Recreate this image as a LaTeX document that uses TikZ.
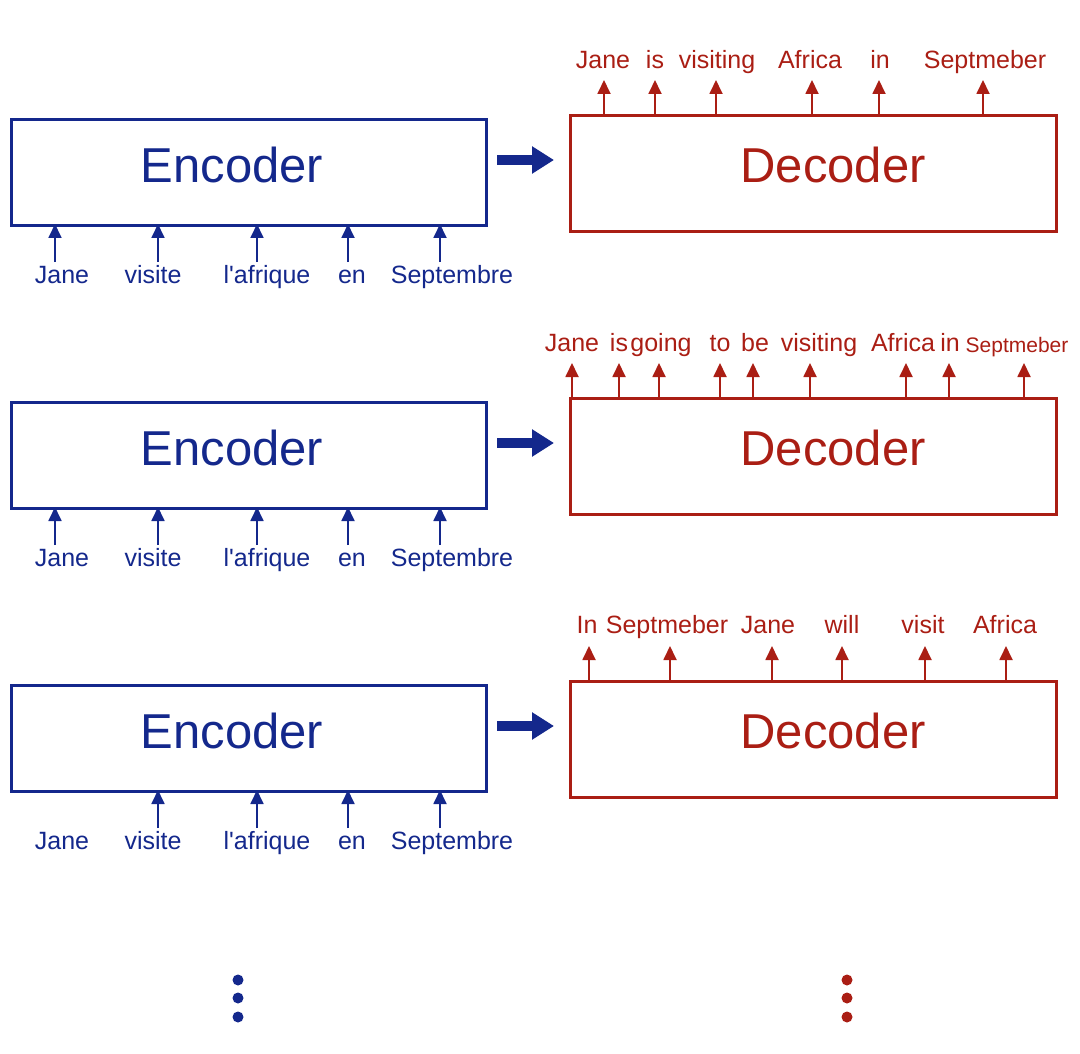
\documentclass[tikz,border=0pt]{standalone}
\usepackage{fontspec}
\setmainfont{Liberation Sans}
\usetikzlibrary{arrows.meta}
\definecolor{eblue}{RGB}{20,40,140}
\definecolor{dred}{RGB}{170,30,20}
\begin{document}
\begin{tikzpicture}[x=1pt,y=-1pt,
  enc/.style={draw=eblue,line width=3pt,anchor=north west,inner sep=0pt},
  dec/.style={draw=dred,line width=3pt,anchor=north west,inner sep=0pt},
  bw/.style={text=eblue,font=\fontsize{25}{28}\selectfont,inner sep=0pt},
  rw/.style={text=dred,font=\fontsize{25}{28}\selectfont,inner sep=0pt},
  barr/.style={eblue,line width=1.8pt,-{Triangle[width=13pt,length=14pt]}},
  rarr/.style={dred,line width=1.8pt,-{Triangle[width=13pt,length=14pt]}},
  big/.style={eblue,line width=10pt,-{Triangle[width=26pt,length=22pt]}}]
\useasboundingbox (0,0) rectangle (1080,1054);
\foreach \r/\dy in {1/0,2/283,3/566}{
  \node[enc,minimum width=475pt,minimum height=106pt] (e\r) at (10,118+\dy) {};
  \node[text=eblue,font=\fontsize{49}{54}\selectfont] (et\r) at (232,165+\dy) {Encoder};
  \node[dec,minimum width=486pt,minimum height=116pt] (d\r) at (569,114+\dy) {};
  \node[text=dred,font=\fontsize{49}{54}\selectfont] (dt\r) at (833,165+\dy) {Decoder};
  \coordinate (ba\r) at (497,160+\dy);
  \coordinate (bb\r) at (554,160+\dy);
  \draw[big] (ba\r) -- (bb\r);
  \foreach \w/\lx in {Jane/62,visite/153,l\textquotesingle afrique/267,en/352,Septembre/452}
    \node[bw] at (\lx,278+\dy) {\strut\w};
}
\foreach \r/\dy in {1/0,2/283}
  \foreach \ax in {55,158,257,348,440}
    \draw[barr] (\ax,262+\dy) -- (\ax,224+\dy);
\foreach \ax in {158,257,348,440}
  \draw[barr] (\ax,828) -- (\ax,790);
% decoder outputs
\foreach \w/\lx/\ax in {Jane/603/604,is/655/655,visiting/717/716,Africa/810/812,in/880/879,Septmeber/985/983}{
  \node[rw] at (\lx,63) {\strut\w};
  \draw[rarr] (\ax,114) -- (\ax,80);}
\foreach \w/\lx/\ax in {Jane/572/572,is/619/619,going/661/659,to/720/720,be/755/753,visiting/819/810,Africa/903/906,in/950/949}{
  \node[rw] at (\lx,346) {\strut\w};
  \draw[rarr] (\ax,397) -- (\ax,363);}
\node[rw,font=\fontsize{21}{24}\selectfont] at (1017,348) {\strut Septmeber};
\draw[rarr] (1024,397) -- (1024,363);
\foreach \w/\lx/\ax in {In/587/589,Septmeber/667/670,Jane/768/772,will/842/842,visit/923/925,Africa/1005/1006}{
  \node[rw] at (\lx,628) {\strut\w};
  \draw[rarr] (\ax,680) -- (\ax,646);}
\foreach \y in {980,998,1017}{
  \fill[eblue] (238,\y) circle (5.5pt);
  \fill[dred] (847,\y) circle (5.5pt);}
\end{tikzpicture}
\end{document}
